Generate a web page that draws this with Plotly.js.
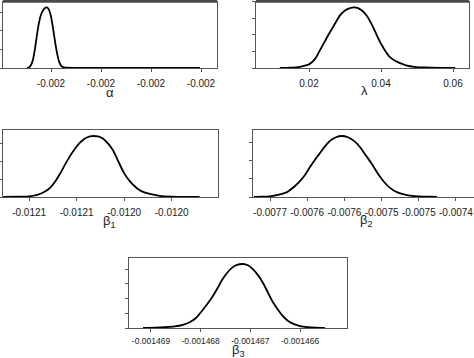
<!DOCTYPE html>
<html>
<head>
<meta charset="utf-8">
<script src="https://cdn.plot.ly/plotly-3.0.1.min.js"></script>
<style>html,body{margin:0;padding:0;background:#fff;}#chart{width:474px;height:358px;}</style>
</head>
<body>
<div id="chart"></div>
<script>
// ---- data ----
var alphaX = [-0.002174,-0.002172,-0.002170,-0.002168,-0.002166,-0.002164,-0.002162,-0.002160,-0.002158,-0.002156,-0.002154,-0.002152,-0.002150,-0.002148,-0.002146,-0.002144,-0.002142,-0.002140,-0.002138,-0.002135,-0.002126,-0.002101,-0.002051,-0.002001];
var alphaY = [0,815,4075,11410,26080,44825,61125,71720,77425,80685,81500,78240,69275,53790,35860,20375,8965,3260,1223,489,245,98,41,0];
var alphaTickVals = [-0.00215,-0.00210,-0.00205,-0.00200];
var alphaTickText = ["-0.002","-0.002","-0.002","-0.002"];

var lambdaX = [0.0119,0.0147,0.0175,0.0189,0.0200,0.0217,0.0231,0.0244,0.0258,0.0272,0.0286,0.0300,0.0314,0.0325,0.0336,0.0347,0.0361,0.0369,0.0381,0.0389,0.0400,0.0411,0.0425,0.0439,0.0453,0.0472,0.0492,0.0522,0.0575,0.0606];
var lambdaY = [0,0.37,1.46,2.92,4.38,10.95,21.9,32.1,43.1,53.3,63.5,69.4,72.3,73.0,72.3,69.4,62.8,56.9,46.7,38.7,29.2,21.2,13.1,8.76,5.84,2.92,1.46,0.58,0.15,0];
var lambdaTickVals = [0.02,0.04,0.06];
var lambdaTickText = ["0.02","0.04","0.06"];

var beta1X = [-0.0121418,-0.0121276,-0.0121200,-0.0121124,-0.0121066,-0.0121024,-0.0120982,-0.0120940,-0.0120898,-0.0120856,-0.0120814,-0.0120772,-0.0120730,-0.0120688,-0.0120655,-0.0120621,-0.0120579,-0.0120537,-0.0120495,-0.0120453,-0.0120403,-0.0120353,-0.0120302,-0.0120260,-0.0120185,-0.0120101,-0.0120000,-0.0119891,-0.0119765];
var beta1Y = [0,121,289,964,2169,3615,6025,9158,12773,16147,19039,21449,23136,23980,24100,23980,23136,21208,18557,14460,9640,6266,3856,2410,1205,482,169,48,0];
var beta1TickVals = [-0.01212,-0.01208,-0.01204,-0.01200];
var beta1TickText = ["-0.0121","-0.0121","-0.0120","-0.0120"];

var beta2X = [-0.0076772,-0.0076686,-0.0076600,-0.0076514,-0.0076417,-0.0076331,-0.0076278,-0.0076224,-0.0076170,-0.0076116,-0.0076063,-0.0076009,-0.0075955,-0.0075891,-0.0075826,-0.0075762,-0.0075697,-0.0075633,-0.0075568,-0.0075504,-0.0075439,-0.0075375,-0.0075310,-0.0075235,-0.0075149,-0.0075074,-0.0074998,-0.0074902,-0.0074805];
var beta2Y = [0,67,200,585,1336,3006,4342,6012,8183,10187,12024,13861,15364,16366,16700,16366,15364,13694,11356,9018,6346,4175,2505,1336,668,334,167,67,0];
var beta2TickVals = [-0.00766,-0.00762,-0.00758,-0.00754,-0.00750,-0.00746];
var beta2TickText = ["-0.0077","-0.0076","-0.0076","-0.0075","-0.0075","-0.0074"];

var beta3X = [-0.00146916,-0.00146892,-0.00146872,-0.00146852,-0.00146836,-0.00146822,-0.00146809,-0.00146797,-0.00146787,-0.00146777,-0.00146767,-0.00146757,-0.00146747,-0.00146737,-0.00146727,-0.00146715,-0.00146705,-0.00146695,-0.00146685,-0.00146675,-0.00146665,-0.00146655,-0.00146644,-0.00146634,-0.00146624,-0.00146612,-0.00146600,-0.00146584,-0.00146568,-0.00146550];
var beta3Y = [0,3472,10416,21700,43400,78120,138880,234360,321160,416640,529480,651000,746480,815920,854980,868000,850640,798560,720440,616280,486080,355880,243040,156240,95480,52080,26040,10416,3472,0];
var beta3TickVals = [-0.001469,-0.001468,-0.001467,-0.001466];
var beta3TickText = ["-0.001469","-0.001468","-0.001467","-0.001466"];

var axisTitles = ["α","λ","β<sub>1</sub>","β<sub>2</sub>","β<sub>3</sub>"];

// ---- layout helpers ----
var W = 474, H = 358;
function px(x){ return x / W; }
function py(y){ return 1 - y / H; }
var FONT = "Liberation Sans, Arial, Helvetica, sans-serif";

function xAxis(x0, x1, range, tv, tt, fs, yname, lso){
  return {
    domain:[px(x0), px(x1)], range:range, anchor:yname,
    tickmode:'array', tickvals:tv, ticktext:tt,
    ticks:'outside', ticklen:3, tickwidth:1, tickcolor:'#555',
    ticklabelstandoff:lso,
    showline:true, linecolor:'#555', linewidth:1, mirror:true,
    showgrid:false, zeroline:false, automargin:false,
    tickfont:{family:FONT, size:fs, color:'#222'}
  };
}
function yAxis(top, bottom, range, dtick, xname, mirror){
  return {
    domain:[py(bottom), py(top)], range:range, anchor:xname,
    tickmode:'linear', tick0:0, dtick:dtick,
    ticks:'outside', ticklen:3, tickwidth:1, tickcolor:'#555',
    showticklabels:false,
    showline:true, linecolor:'#555', linewidth:1, mirror:mirror,
    showgrid:false, zeroline:false, automargin:false
  };
}
function axTitle(text, cx, cy){
  return {text:text, xref:'paper', yref:'paper', x:px(cx), y:py(cy),
          xanchor:'center', yanchor:'middle', showarrow:false,
          font:{family:FONT, size:13, color:'#222'}};
}

var line = {color:'#000', width:1.8, shape:'spline', smoothing:0.6};
var traces = [
  {x:alphaX, y:alphaY, xaxis:'x', yaxis:'y', mode:'lines', line:line, hoverinfo:'skip'},
  {x:lambdaX, y:lambdaY, xaxis:'x2', yaxis:'y2', mode:'lines', line:line, hoverinfo:'skip'},
  {x:beta1X, y:beta1Y, xaxis:'x3', yaxis:'y3', mode:'lines', line:line, hoverinfo:'skip'},
  {x:beta2X, y:beta2Y, xaxis:'x4', yaxis:'y4', mode:'lines', line:line, hoverinfo:'skip'},
  {x:beta3X, y:beta3Y, xaxis:'x5', yaxis:'y5', mode:'lines', line:line, hoverinfo:'skip'}
];

var layout = {
  width:W, height:H, margin:{l:0,r:0,t:0,b:0},
  paper_bgcolor:'#fff', plot_bgcolor:'#fff', showlegend:false,
  font:{family:FONT, color:'#222'},
  xaxis:  xAxis(3, 217, [-0.002198,-0.001984], alphaTickVals, alphaTickText, 10, 'y', 3),
  yaxis:  yAxis(1.5, 68, [0, 89500], 25000, 'x', true),
  xaxis2: xAxis(256, 469, [0.00528, 0.06444], lambdaTickVals, lambdaTickText, 10, 'y2', 3),
  yaxis2: yAxis(1.5, 68, [0, 80.2], 20, 'x2', true),
  xaxis3: xAxis(3, 218, [-0.012142,-0.011961], beta1TickVals, beta1TickText, 10, 'y3', 3),
  yaxis3: yAxis(130, 197, [0, 26470], 7000, 'x3', true),
  xaxis4: xAxis(253, 474, [-0.0076783,-0.0074406], beta2TickVals, beta2TickText, 10, 'y4', 3),
  yaxis4: yAxis(130, 197, [0, 18343], 5000, 'x4', false),
  xaxis5: xAxis(129, 347, [-0.0014694426,-0.0014650544], beta3TickVals, beta3TickText, 8.5, 'y5', 2),
  yaxis5: yAxis(258, 328, [0, 949375], 200000, 'x5', true),
  annotations:[
    axTitle(axisTitles[0], 110, 93),
    axTitle(axisTitles[1], 364, 90.5),
    axTitle(axisTitles[2], 109, 221),
    axTitle(axisTitles[3], 366, 220),
    axTitle(axisTitles[4], 239, 350.5)
  ],
  shapes:[
    {type:'rect', xref:'paper', yref:'paper', x0:px(3), x1:px(217), y0:py(2.8), y1:1, fillcolor:'#4a4a4a', line:{width:0}},
    {type:'rect', xref:'paper', yref:'paper', x0:px(256), x1:px(469), y0:py(2.8), y1:1, fillcolor:'#4a4a4a', line:{width:0}}
  ]
};

Plotly.newPlot('chart', traces, layout, {displayModeBar:false, staticPlot:true});
</script>
</body>
</html>
